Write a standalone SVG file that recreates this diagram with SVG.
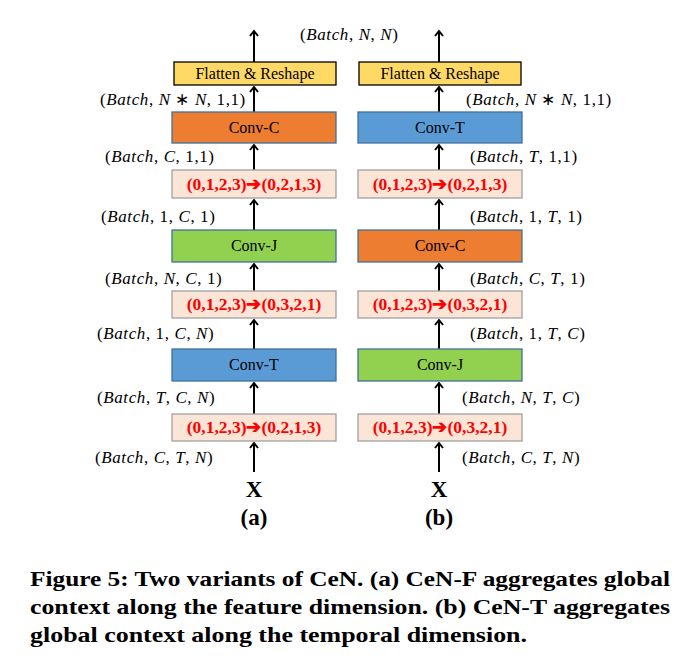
<svg xmlns="http://www.w3.org/2000/svg" width="695" height="665" viewBox="0 0 695 665">
<style>
.b{stroke-width:1.3}
.fl{fill:#FFD966;stroke:#000}
.cc{fill:#ED7D31;stroke:#41719C}
.cj{fill:#92D050;stroke:#41719C}
.ct{fill:#5B9BD5;stroke:#41719C}
.pm{fill:#FBE5D6;stroke:#A0A0A0}
.bt{font-family:"Liberation Serif",serif;font-size:16px;text-anchor:middle;fill:#000}
.pt{font-family:"Liberation Serif",serif;font-size:17.5px;font-weight:bold;text-anchor:middle;fill:#FF0000}
.m{font-family:"Liberation Serif",serif;font-size:17px;letter-spacing:0.6px;fill:#000}
.m tspan.i{font-style:italic}
.x{font-family:"Liberation Serif",serif;font-size:23px;font-weight:bold;text-anchor:middle}
.cap{font-family:"Liberation Serif",serif;font-size:21px;font-weight:bold}
.a{stroke:#000;stroke-width:2;fill:none;marker-end:url(#ah)}
</style>
<defs><marker id="ah" markerWidth="10" markerHeight="10" refX="6" refY="5" orient="auto" markerUnits="userSpaceOnUse"><path d="M1,1 L6,5 L1,9" fill="none" stroke="#000" stroke-width="2"/></marker></defs>
<rect width="695" height="665" fill="#fff"/>
<g id="connectors">
<line class="a" x1="254" y1="62" x2="254" y2="31"/>
<line class="a" x1="254" y1="112" x2="254" y2="87"/>
<line class="a" x1="254" y1="170" x2="254" y2="145"/>
<line class="a" x1="254" y1="230" x2="254" y2="200"/>
<line class="a" x1="254" y1="291" x2="254" y2="264"/>
<line class="a" x1="254" y1="349" x2="254" y2="320"/>
<line class="a" x1="254" y1="414" x2="254" y2="383"/>
<line class="a" x1="254" y1="472" x2="254" y2="443"/>
<line class="a" x1="439" y1="62" x2="439" y2="31"/>
<line class="a" x1="439" y1="112" x2="439" y2="87"/>
<line class="a" x1="439" y1="170" x2="439" y2="145"/>
<line class="a" x1="439" y1="230" x2="439" y2="200"/>
<line class="a" x1="439" y1="291" x2="439" y2="264"/>
<line class="a" x1="439" y1="349" x2="439" y2="320"/>
<line class="a" x1="439" y1="414" x2="439" y2="383"/>
<line class="a" x1="439" y1="472" x2="439" y2="443"/>
</g>
<g id="a-flatten"><rect class="fl b" x="174" y="62" width="162" height="23"/><text class="bt" x="255" y="79">Flatten &amp; Reshape</text></g>
<g id="a-convc"><rect class="cc b" x="172" y="112" width="164" height="31"/><text class="bt" x="254" y="133">Conv-C</text></g>
<g id="a-p1"><rect class="pm b" x="172" y="170" width="164" height="28"/><text class="pt" x="254" y="190">(0,1,2,3)➔(0,2,1,3)</text></g>
<g id="a-convj"><rect class="cj b" x="172" y="230" width="164" height="32"/><text class="bt" x="254" y="251">Conv-J</text></g>
<g id="a-p2"><rect class="pm b" x="172" y="291" width="164" height="27"/><text class="pt" x="254" y="310">(0,1,2,3)➔(0,3,2,1)</text></g>
<g id="a-convt"><rect class="ct b" x="172" y="349" width="164" height="32"/><text class="bt" x="254" y="370">Conv-T</text></g>
<g id="a-p3"><rect class="pm b" x="172" y="414" width="164" height="27"/><text class="pt" x="254" y="433">(0,1,2,3)➔(0,2,1,3)</text></g>
<g id="b-flatten"><rect class="fl b" x="359" y="62" width="162" height="23"/><text class="bt" x="440" y="79">Flatten &amp; Reshape</text></g>
<g id="b-convt"><rect class="ct b" x="358" y="112" width="164" height="31"/><text class="bt" x="440" y="133">Conv-T</text></g>
<g id="b-p1"><rect class="pm b" x="358" y="170" width="164" height="28"/><text class="pt" x="440" y="190">(0,1,2,3)➔(0,2,1,3)</text></g>
<g id="b-convc"><rect class="cc b" x="358" y="230" width="164" height="32"/><text class="bt" x="440" y="251">Conv-C</text></g>
<g id="b-p2"><rect class="pm b" x="358" y="291" width="164" height="27"/><text class="pt" x="440" y="310">(0,1,2,3)➔(0,3,2,1)</text></g>
<g id="b-convj"><rect class="cj b" x="358" y="349" width="164" height="32"/><text class="bt" x="440" y="370">Conv-J</text></g>
<g id="b-p3"><rect class="pm b" x="358" y="414" width="164" height="27"/><text class="pt" x="440" y="433">(0,1,2,3)➔(0,3,2,1)</text></g>
<g id="labels">
<text class="m" x="300" y="40">(<tspan class="i">Batch</tspan>, <tspan class="i">N</tspan>, <tspan class="i">N</tspan>)</text>
<text class="m" x="100" y="105">(<tspan class="i">Batch</tspan>, <tspan class="i">N</tspan> ∗ <tspan class="i">N</tspan>, 1,1)</text>
<text class="m" x="105" y="162">(<tspan class="i">Batch</tspan>, <tspan class="i">C</tspan>, 1,1)</text>
<text class="m" x="101" y="222">(<tspan class="i">Batch</tspan>, 1, <tspan class="i">C</tspan>, 1)</text>
<text class="m" x="105" y="284">(<tspan class="i">Batch</tspan>, <tspan class="i">N</tspan>, <tspan class="i">C</tspan>, 1)</text>
<text class="m" x="97" y="339">(<tspan class="i">Batch</tspan>, 1, <tspan class="i">C</tspan>, <tspan class="i">N</tspan>)</text>
<text class="m" x="97" y="403">(<tspan class="i">Batch</tspan>, <tspan class="i">T</tspan>, <tspan class="i">C</tspan>, <tspan class="i">N</tspan>)</text>
<text class="m" x="95" y="463">(<tspan class="i">Batch</tspan>, <tspan class="i">C</tspan>, <tspan class="i">T</tspan>, <tspan class="i">N</tspan>)</text>
<text class="m" x="466" y="105">(<tspan class="i">Batch</tspan>, <tspan class="i">N</tspan> ∗ <tspan class="i">N</tspan>, 1,1)</text>
<text class="m" x="470" y="162">(<tspan class="i">Batch</tspan>, <tspan class="i">T</tspan>, 1,1)</text>
<text class="m" x="470" y="222">(<tspan class="i">Batch</tspan>, 1, <tspan class="i">T</tspan>, 1)</text>
<text class="m" x="470" y="284">(<tspan class="i">Batch</tspan>, <tspan class="i">C</tspan>, <tspan class="i">T</tspan>, 1)</text>
<text class="m" x="470" y="339">(<tspan class="i">Batch</tspan>, 1, <tspan class="i">T</tspan>, <tspan class="i">C</tspan>)</text>
<text class="m" x="462" y="403">(<tspan class="i">Batch</tspan>, <tspan class="i">N</tspan>, <tspan class="i">T</tspan>, <tspan class="i">C</tspan>)</text>
<text class="m" x="462" y="463">(<tspan class="i">Batch</tspan>, <tspan class="i">C</tspan>, <tspan class="i">T</tspan>, <tspan class="i">N</tspan>)</text>
<text class="x" x="254" y="497">X</text>
<text class="x" x="254" y="525">(a)</text>
<text class="x" x="439" y="497">X</text>
<text class="x" x="439" y="525">(b)</text>
<text class="cap" x="30" y="586" textLength="640" lengthAdjust="spacingAndGlyphs">Figure 5: Two variants of CeN. (a) CeN-F aggregates global</text>
<text class="cap" x="30" y="614" textLength="640" lengthAdjust="spacingAndGlyphs">context along the feature dimension. (b) CeN-T aggregates</text>
<text class="cap" x="30" y="642" textLength="497" lengthAdjust="spacingAndGlyphs">global context along the temporal dimension.</text>
</g>
</svg>
